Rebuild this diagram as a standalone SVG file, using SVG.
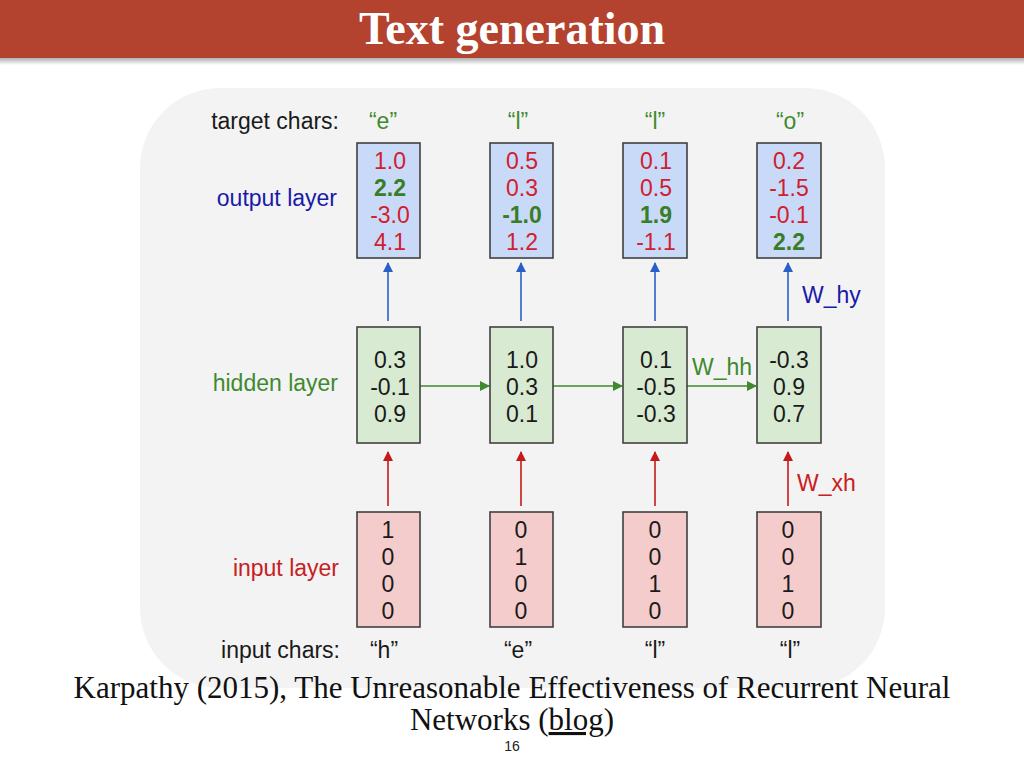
<svg xmlns="http://www.w3.org/2000/svg" width="1024" height="768" viewBox="0 0 1024 768">
<defs>
<style>
.s{font-family:"Liberation Sans",Arial,sans-serif;font-size:23px;}
.c{text-anchor:middle;}
.k{fill:#1a1a1a;}
.r{fill:#d0202e;}
.g{fill:#3a7d28;font-weight:bold;}
.gl{fill:#3f8a2e;}
.b{fill:#1a1aa8;}
.rl{fill:#c8201e;}
.ob{fill:#c9daf8;stroke:#404040;stroke-width:1.6;}
.hb{fill:#d9ead3;stroke:#404040;stroke-width:1.6;}
.ib{fill:#f4cccc;stroke:#404040;stroke-width:1.6;}
.ser{font-family:"Liberation Serif","Times New Roman",serif;}
</style>
<linearGradient id="sh" x1="0" y1="0" x2="0" y2="1">
<stop offset="0" stop-color="#000" stop-opacity="0.35"/>
<stop offset="1" stop-color="#000" stop-opacity="0"/>
</linearGradient>
<marker id="ab" markerWidth="10" markerHeight="10" refX="9" refY="5" orient="auto" markerUnits="userSpaceOnUse"><path d="M0,0 L10,5 L0,10 z" fill="#2a5fc8"/></marker>
<marker id="ar" markerWidth="10" markerHeight="10" refX="9" refY="5" orient="auto" markerUnits="userSpaceOnUse"><path d="M0,0 L10,5 L0,10 z" fill="#c41a1a"/></marker>
<marker id="ag" markerWidth="10" markerHeight="10" refX="9" refY="5" orient="auto" markerUnits="userSpaceOnUse"><path d="M0,0 L10,5 L0,10 z" fill="#3f8a2e"/></marker>
</defs>
<rect width="1024" height="768" fill="#ffffff"/>
<rect x="0" y="57" width="1024" height="8" fill="url(#sh)"/>
<rect x="0" y="0" width="1024" height="58" fill="#b3432f"/>
<text x="512" y="44" class="ser c" font-size="46" font-weight="bold" fill="#ffffff">Text generation</text>

<rect x="140" y="88" width="745" height="600" rx="80" ry="80" fill="#f3f3f3"/>

<g id="labels" class="s">
<text x="339" y="129" text-anchor="end" class="k">target chars:</text>
<text x="337" y="206" text-anchor="end" class="b">output layer</text>
<text x="338" y="391" text-anchor="end" class="gl">hidden layer</text>
<text x="339" y="576" text-anchor="end" class="rl">input layer</text>
<text x="340" y="658" text-anchor="end" class="k">input chars:</text>
<text x="383" y="129" class="c gl">“e”</text>
<text x="518" y="129" class="c gl">“l”</text>
<text x="655" y="129" class="c gl">“l”</text>
<text x="790" y="129" class="c gl">“o”</text>
<text x="384" y="658" class="c k">“h”</text>
<text x="518" y="658" class="c k">“e”</text>
<text x="655" y="658" class="c k">“l”</text>
<text x="790" y="658" class="c k">“l”</text>
<text x="802" y="303" class="b">W_hy</text>
<text x="692" y="375" class="gl">W_hh</text>
<text x="797" y="491" class="rl">W_xh</text>
</g>

<g id="connectors" stroke-width="1.6" fill="none">
<line x1="388" y1="321" x2="388" y2="263" stroke="#2a5fc8" marker-end="url(#ab)"/>
<line x1="521" y1="321" x2="521" y2="263" stroke="#2a5fc8" marker-end="url(#ab)"/>
<line x1="655" y1="321" x2="655" y2="263" stroke="#2a5fc8" marker-end="url(#ab)"/>
<line x1="788" y1="321" x2="788" y2="263" stroke="#2a5fc8" marker-end="url(#ab)"/>
<line x1="388" y1="506" x2="388" y2="452" stroke="#c41a1a" marker-end="url(#ar)"/>
<line x1="521" y1="506" x2="521" y2="452" stroke="#c41a1a" marker-end="url(#ar)"/>
<line x1="655" y1="506" x2="655" y2="452" stroke="#c41a1a" marker-end="url(#ar)"/>
<line x1="788" y1="506" x2="788" y2="452" stroke="#c41a1a" marker-end="url(#ar)"/>
<line x1="420" y1="386" x2="489" y2="386" stroke="#3f8a2e" marker-end="url(#ag)"/>
<line x1="553" y1="386" x2="622" y2="386" stroke="#3f8a2e" marker-end="url(#ag)"/>
<line x1="687" y1="386" x2="756" y2="386" stroke="#3f8a2e" marker-end="url(#ag)"/>
</g>

<g id="out1" class="s c"><rect class="ob" x="357" y="143" width="63" height="115"/>
<text x="390" y="169" class="r">1.0</text><text x="390" y="196" class="g">2.2</text><text x="390" y="223" class="r">-3.0</text><text x="390" y="250" class="r">4.1</text></g>
<g id="out2" class="s c"><rect class="ob" x="490" y="143" width="63" height="115"/>
<text x="522" y="169" class="r">0.5</text><text x="522" y="196" class="r">0.3</text><text x="522" y="223" class="g">-1.0</text><text x="522" y="250" class="r">1.2</text></g>
<g id="out3" class="s c"><rect class="ob" x="623" y="143" width="64" height="115"/>
<text x="656" y="169" class="r">0.1</text><text x="656" y="196" class="r">0.5</text><text x="656" y="223" class="g">1.9</text><text x="656" y="250" class="r">-1.1</text></g>
<g id="out4" class="s c"><rect class="ob" x="757" y="143" width="64" height="115"/>
<text x="789" y="169" class="r">0.2</text><text x="789" y="196" class="r">-1.5</text><text x="789" y="223" class="r">-0.1</text><text x="789" y="250" class="g">2.2</text></g>

<g id="hid1" class="s c k"><rect class="hb" x="357" y="327" width="63" height="116"/>
<text x="390" y="368">0.3</text><text x="390" y="395">-0.1</text><text x="390" y="422">0.9</text></g>
<g id="hid2" class="s c k"><rect class="hb" x="490" y="327" width="63" height="116"/>
<text x="522" y="368">1.0</text><text x="522" y="395">0.3</text><text x="522" y="422">0.1</text></g>
<g id="hid3" class="s c k"><rect class="hb" x="623" y="327" width="64" height="116"/>
<text x="656" y="368">0.1</text><text x="656" y="395">-0.5</text><text x="656" y="422">-0.3</text></g>
<g id="hid4" class="s c k"><rect class="hb" x="757" y="327" width="64" height="116"/>
<text x="789" y="368">-0.3</text><text x="789" y="395">0.9</text><text x="789" y="422">0.7</text></g>

<g id="in1" class="s c k"><rect class="ib" x="357" y="512" width="63" height="115"/>
<text x="388" y="538">1</text><text x="388" y="565">0</text><text x="388" y="592">0</text><text x="388" y="619">0</text></g>
<g id="in2" class="s c k"><rect class="ib" x="490" y="512" width="63" height="115"/>
<text x="521" y="538">0</text><text x="521" y="565">1</text><text x="521" y="592">0</text><text x="521" y="619">0</text></g>
<g id="in3" class="s c k"><rect class="ib" x="623" y="512" width="64" height="115"/>
<text x="655" y="538">0</text><text x="655" y="565">0</text><text x="655" y="592">1</text><text x="655" y="619">0</text></g>
<g id="in4" class="s c k"><rect class="ib" x="757" y="512" width="64" height="115"/>
<text x="788" y="538">0</text><text x="788" y="565">0</text><text x="788" y="592">1</text><text x="788" y="619">0</text></g>

<g id="caption" class="ser c" fill="#111" font-size="31">
<text x="512" y="698">Karpathy (2015), The Unreasonable Effectiveness of Recurrent Neural</text>
<text x="512" y="730">Networks (<tspan text-decoration="underline">blog</tspan>)</text>
</g>
<text x="512" y="751" class="c" font-family="Liberation Sans, Arial, sans-serif" font-size="14" fill="#222">16</text>
</svg>
